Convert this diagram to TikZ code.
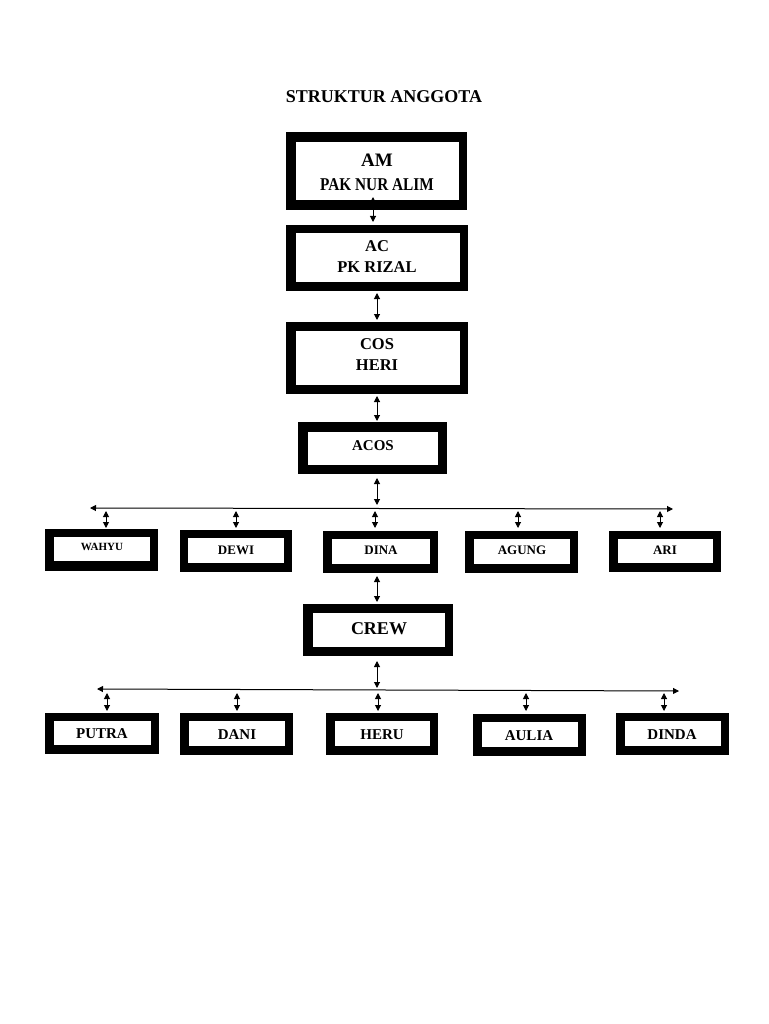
\documentclass[tikz,border=0pt]{standalone}
\usepackage{fontspec}
\setmainfont{Liberation Serif}
\usetikzlibrary{arrows.meta}
\begin{document}
\begin{tikzpicture}[x=1pt,y=-1pt,
  arr/.style={{Triangle[width=6pt,length=6pt]}-{Triangle[width=6pt,length=6pt]}, line width=1pt},
  lbl/.style={font=\bfseries, align=center, inner sep=0pt}]
\useasboundingbox (0,0) rectangle (768,1024);
\newcommand\obox[9]{% name, x1,y1,x2,y2, ix1,iy1,ix2,iy2
  \fill[black] (#2,#3) rectangle (#4,#5);
  \fill[white] (#6,#7) rectangle (#8,#9);
  \coordinate (#1) at ({(#6+#8)/2},{(#7+#9)/2});}
\node[lbl, font=\bfseries\fontsize{18}{20}\selectfont] (title) at (384,97) {STRUKTUR ANGGOTA};
\obox{am}{286}{132}{467}{210}{296}{142}{459}{200}
\obox{ac}{286}{225}{468}{291}{296}{233}{460}{282}
\obox{cos}{286}{322}{468}{394}{296}{331}{460}{385}
\obox{acos}{298}{422}{447}{474}{308}{432}{438}{465}
\obox{wahyu}{45}{529}{158}{571}{54}{537}{150}{561}
\obox{dewi}{180}{530}{292}{572}{188}{538}{284}{563}
\obox{dina}{323}{531}{438}{573}{332}{539}{430}{564}
\obox{agung}{465}{531}{578}{573}{474}{539}{570}{564}
\obox{ari}{609}{531}{721}{572}{618}{539}{713}{563}
\obox{crew}{303}{604}{453}{656}{313}{613}{445}{647}
\obox{putra}{45}{713}{159}{754}{54}{721}{151}{745}
\obox{dani}{180}{713}{293}{755}{189}{721}{285}{746}
\obox{heru}{326}{713}{438}{755}{335}{721}{430}{746}
\obox{aulia}{473}{714}{586}{756}{482}{722}{578}{747}
\obox{dinda}{616}{713}{729}{755}{625}{721}{721}{746}
\node[lbl, font=\bfseries\fontsize{19}{21}\selectfont] (tam1) at (377,160) {AM};
\node[lbl, font=\bfseries\addfontfeature{FakeStretch=0.85}\fontsize{18}{20}\selectfont] (tam2) at (377,185) {PAK NUR ALIM};
\node[lbl, font=\bfseries\fontsize{16.5}{21}\selectfont] (tac) at (377,257) {AC\\PK RIZAL};
\node[lbl, font=\bfseries\fontsize{16.5}{21}\selectfont] (tcos) at (377,355) {COS\\HERI};
\node[lbl, font=\bfseries\fontsize{15}{17}\selectfont] (tacos) at (373,446) {ACOS};
\node[lbl, font=\bfseries\fontsize{11}{13}\selectfont] (twahyu) at (102,547) {WAHYU};
\foreach \n/\t/\x in {dewi/DEWI/236,dina/DINA/381,agung/AGUNG/522,ari/ARI/665}
  \node[lbl, font=\bfseries\fontsize{13}{15}\selectfont] (t\n) at (\x,550) {\t};
\node[lbl, font=\bfseries\fontsize{18}{20}\selectfont] (tcrew) at (379,629) {CREW};
\foreach \n/\t/\x/\y in {putra/PUTRA/102/734,dani/DANI/237/735,heru/HERU/382/735,aulia/AULIA/529/736,dinda/DINDA/672/735}
  \node[lbl, font=\bfseries\fontsize{15}{17}\selectfont] (t\n) at (\x,\y) {\t};
% vertical connectors
\coordinate (a1) at (373,197); \coordinate (a2) at (373,222);
\coordinate (b1) at (377,293); \coordinate (b2) at (377,320);
\coordinate (c1) at (377,396); \coordinate (c2) at (377,421);
\coordinate (d1) at (377,478); \coordinate (d2) at (377,505);
\coordinate (e1) at (377,576); \coordinate (e2) at (377,602);
\coordinate (f1) at (377,661); \coordinate (f2) at (377,688);
\foreach \p in {a,b,c,d,e,f} \draw[arr] (\p1) -- (\p2);
% horizontal bars
\coordinate (h1l) at (90,508); \coordinate (h1r) at (673,509);
\coordinate (h2l) at (97,689); \coordinate (h2r) at (679,691);
\draw[arr] (h1l) -- (h1r);
\draw[arr] (h2l) -- (h2r);
\foreach \n/\x in {wahyu/106,dewi/236,dina/375,agung/518,ari/660}
  \draw[arr] (\x,511) -- (\x,528);
\foreach \n/\x in {putra/107,dani/237,heru/378,aulia/526,dinda/664}
  \draw[arr] (\x,693) -- (\x,711);
\end{tikzpicture}
\end{document}
